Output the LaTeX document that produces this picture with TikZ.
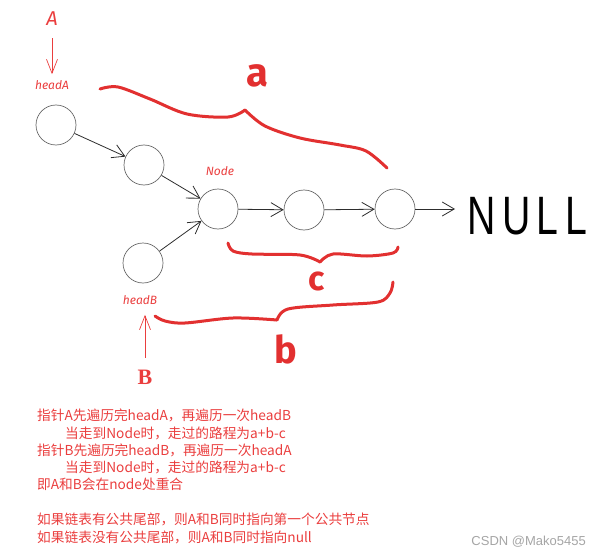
\documentclass[tikz,border=0pt]{standalone}
\usepackage{fontspec}
\newfontfamily\cjk{Noto Sans CJK SC}
\newfontfamily\hand{Fira Sans}
\newfontfamily\nullfnt{Liberation Sans}
\newfontfamily\wmfont{Liberation Sans}
\newfontfamily\bfont{Liberation Serif}
\usetikzlibrary{arrows.meta}
\definecolor{hred}{RGB}{226,48,48}
\definecolor{tred}{RGB}{234,62,62}
\definecolor{cgray}{RGB}{105,105,105}
\definecolor{agray}{RGB}{45,45,45}
\definecolor{wgray}{RGB}{165,165,165}
\tikzset{
  lnode/.style={circle, draw=cgray, line width=0.7pt, minimum size=40pt, inner sep=0pt},
  lnk/.style={draw=agray, line width=0.8pt, -{Straight Barb[length=12pt,width=14pt]}},
  rarrow/.style={draw=tred, line width=0.7pt, -{Straight Barb[length=14pt,width=11pt]}},
  hlabel/.style={text=tred, font=\hand\itshape\fontsize{12}{12}\selectfont, inner sep=0pt},
  brace/.style={draw=hred, line width=3pt, line cap=round, line join=round},
  blabel/.style={text=hred, inner sep=0pt},
  txt/.style={text=tred, font=\cjk\fontsize{13.7}{14}\selectfont, anchor=west, inner sep=0pt},
}
\begin{document}
\begin{tikzpicture}[x=1pt, y=-1pt]
\useasboundingbox (0,0) rectangle (601,556);
% list nodes
\node[lnode] (n1) at (56,125) {};
\node[lnode] (n2) at (144,165) {};
\node[lnode] (n3) at (218,209) {};
\node[lnode] (n4) at (304,210) {};
\node[lnode] (n5) at (395,209) {};
\node[lnode] (nb) at (143,263) {};
\node[inner sep=0pt, anchor=west] (null) at (467,216)
  {\scalebox{0.74}[1.02]{\nullfnt\fontsize{53}{53}\selectfont N\,U\,L\,L}};
% links
\draw[lnk] (n1) -- (n2);
\draw[lnk] (n2) -- (n3);
\draw[lnk] (nb) -- (n3);
\draw[lnk] (n3) -- (n4);
\draw[lnk] (n4) -- (n5);
\draw[lnk] (n5.east) -- ([xshift=-12pt]n5.east -| null.west);
% labels
\node[text=tred, font=\hand\itshape\fontsize{20}{20}\selectfont, inner sep=0pt] (A) at (52,19) {A};
\node[hlabel] (hA) at (52,85) {headA};
\node[hlabel] (nd) at (220,171) {Node};
\node[hlabel] (hB) at (140,300) {headB};
\node[text=tred, font=\bfont\bfseries\fontsize{22}{22}\selectfont, inner sep=0pt] (B) at (145,377) {B};
\draw[rarrow, shorten <=12pt, shorten >=6pt] (A) -- (hA);
\draw[rarrow, shorten <=12pt, shorten >=10pt] (B.north) -- (B.north |- hB.south);
% braces
\draw[brace] plot[smooth, tension=0.55] coordinates {(100,89) (118,87) (150,99) (187,114) (228,117) (245,110)};
\draw[brace] plot[smooth, tension=0.55] coordinates {(245,110) (265,126) (300,138) (340,145) (366,151) (387,168)};
\draw[brace] plot[smooth, tension=0.55] coordinates {(228,243) (233,251) (252,254) (300,255) (320,262)};
\draw[brace] plot[smooth, tension=0.55] coordinates {(320,262) (333,254) (367,256) (393,253) (398,247)};
\draw[brace] plot[smooth, tension=0.55] coordinates {(155,316) (165,321) (185,323) (233,318) (277,320)};
\draw[brace] plot[smooth, tension=0.55] coordinates {(277,320) (288,309) (333,305) (378,302) (390,293) (393,282)};
\node[blabel, font=\hand\bfseries\fontsize{40}{40}\selectfont] (la) at (257,76) {a};
\node[blabel, font=\hand\bfseries\fontsize{34}{34}\selectfont] (lc) at (317,281) {c};
\node[blabel, font=\hand\bfseries\fontsize{38}{38}\selectfont] (lb) at (286,349) {b};
% text block
\node[txt] (t1) at (37,415) {指针A先遍历完headA，再遍历一次headB};
\node[txt] (t2) at (65,433) {当走到Node时，走过的路程为a+b-c};
\node[txt] (t3) at (37,450) {指针B先遍历完headB，再遍历一次headA};
\node[txt] (t4) at (65,467) {当走到Node时，走过的路程为a+b-c};
\node[txt] (t5) at (37,484) {即A和B会在node处重合};
\node[txt] (t6) at (37,519) {如果链表有公共尾部，则A和B同时指向第一个公共节点};
\node[txt] (t7) at (37,537) {如果链表没有公共尾部，则A和B同时指向null};
\node[text=wgray, font=\wmfont\fontsize{13}{13}\selectfont, anchor=east, inner sep=0pt] (wm) at (586,542) {CSDN @Mako5455};
\end{tikzpicture}
\end{document}
